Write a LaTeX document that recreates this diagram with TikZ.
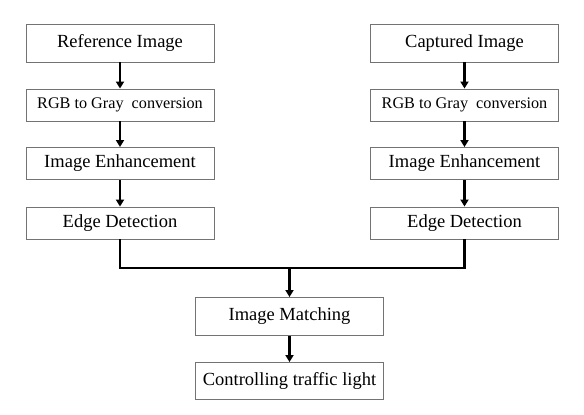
\documentclass[tikz,border=0pt]{standalone}
\usepackage{fontspec}
\setmainfont{Liberation Serif}
\usetikzlibrary{arrows.meta, positioning}

\begin{document}
\begin{tikzpicture}[x=1pt, y=-1pt,
  stage/.style={draw=black!55, line width=0.9pt, minimum width=188pt, inner sep=0pt,
                font=\fontsize{18.5}{20}\selectfont},
  small/.style={font=\fontsize{16.2}{18}\selectfont},
  flow/.style={line width=2.2pt, -{Triangle[length=7pt, width=8pt]}}]

\useasboundingbox (0,0) rectangle (584,415);

% Reference branch
\node[stage, minimum height=38pt] (ref)  at (120,43)    {Reference Image};
\node[stage, small, minimum height=32pt] (rgbL) at (120,105) {RGB to Gray \ conversion};
\node[stage, minimum height=32pt] (enhL) at (120,163.5) {Image Enhancement};
\node[stage, minimum height=32pt] (edgL) at (120,223)   {Edge Detection};

% Captured branch
\node[stage, minimum height=38pt] (cap)  at (464.5,43)    {Captured Image};
\node[stage, small, minimum height=32pt] (rgbR) at (464.5,105) {RGB to Gray \ conversion};
\node[stage, minimum height=32pt] (enhR) at (464.5,163.5) {Image Enhancement};
\node[stage, minimum height=32pt] (edgR) at (464.5,223)   {Edge Detection};

% Matching and control
\node[stage, minimum height=38pt] (match) at (289.5,316.5) {Image Matching};
\node[stage, minimum height=37pt] (ctrl)  at (289.5,381)   {Controlling traffic light};

\coordinate (merge) at (289.5,268);

% Arrows
\draw[flow] (ref) -- (rgbL);
\draw[flow] (rgbL) -- (enhL);
\draw[flow] (enhL) -- (edgL);
\draw[flow] (cap) -- (rgbR);
\draw[flow] (rgbR) -- (enhR);
\draw[flow] (enhR) -- (edgR);
\draw[line width=2.2pt] (edgL.south) |- (merge) -| (edgR.south);
\draw[flow] (merge) -- (match);
\draw[flow] (match) -- (ctrl);

\end{tikzpicture}
\end{document}
